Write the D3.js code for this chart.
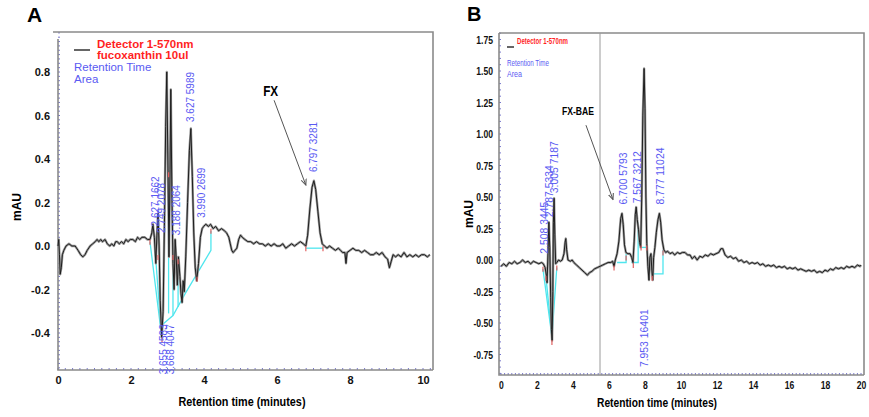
<!DOCTYPE html>
<html>
<head>
<meta charset="utf-8">
<script src="https://cdn.jsdelivr.net/npm/d3@7"></script>
<style>
  body { margin: 0; background: #fff; }
  svg { display: block; font-family: "Liberation Sans", Arial, sans-serif; }
</style>
</head>
<body>
<svg id="chart" width="869" height="417"></svg>
<script>
// ---- panel A : fucoxanthin standard, 570 nm ----
const traceA = [
  [0.00,0.00],[0.02,0.03],[0.04,-0.04],[0.06,-0.13],[0.09,-0.10],[0.12,-0.04],[0.16,-0.02],[0.22,0.00],[0.30,0.01],[0.38,0.00],
  [0.47,0.00],[0.55,-0.02],[0.62,-0.04],[0.68,-0.05],[0.74,-0.04],[0.80,-0.02],[0.88,0.00],[0.95,0.01],[1.02,0.02],[1.07,0.03],
  [1.12,0.02],[1.17,0.03],[1.22,0.02],[1.29,0.03],[1.35,0.01],[1.42,0.00],[1.47,0.01],[1.53,0.00],[1.58,0.02],[1.62,0.02],
  [1.68,0.01],[1.74,0.02],[1.80,0.01],[1.86,0.03],[1.92,0.02],[1.98,0.03],[2.05,0.03],[2.12,0.02],[2.18,0.04],[2.24,0.03],
  [2.30,0.04],[2.38,0.04],[2.45,0.03],[2.52,0.03],[2.57,0.06],[2.60,0.10],[2.64,0.04],[2.68,-0.08],[2.71,0.05],[2.74,0.15],
  [2.77,0.00],[2.80,-0.25],[2.84,-0.42],[2.88,-0.30],[2.92,0.15],[2.95,0.55],[2.98,0.80],[3.01,0.40],[3.04,-0.05],[3.07,0.35],
  [3.09,0.72],[3.12,0.25],[3.15,-0.08],[3.18,-0.20],[3.21,0.03],[3.24,-0.06],[3.27,-0.18],[3.30,-0.05],[3.34,-0.14],[3.37,-0.22],
  [3.40,-0.26],[3.43,-0.16],[3.46,-0.21],[3.50,-0.05],[3.55,0.20],[3.60,0.44],[3.64,0.54],[3.68,0.32],[3.72,0.06],[3.76,-0.10],
  [3.80,-0.16],[3.85,-0.08],[3.90,0.04],[3.95,0.08],[3.99,0.09],[4.05,0.10],[4.12,0.09],[4.18,0.10],[4.25,0.08],[4.32,0.09],
  [4.40,0.07],[4.48,0.08],[4.56,0.07],[4.62,0.06],[4.68,0.04],[4.72,0.01],[4.76,-0.02],[4.80,-0.03],[4.85,-0.02],[4.90,-0.01],
  [4.95,0.03],[5.00,0.05],[5.05,0.04],[5.12,0.03],[5.20,0.02],[5.28,0.02],[5.36,0.01],[5.44,0.02],[5.52,0.01],[5.60,0.01],
  [5.68,0.00],[5.76,0.01],[5.84,0.00],[5.92,0.01],[6.00,0.00],[6.08,0.00],[6.16,0.01],[6.24,-0.01],[6.32,0.00],[6.40,0.01],
  [6.48,0.00],[6.56,0.01],[6.64,0.02],[6.72,0.01],[6.79,0.00],[6.84,0.05],[6.90,0.17],[6.96,0.27],[7.01,0.30],[7.06,0.26],
  [7.12,0.16],[7.18,0.06],[7.24,0.01],[7.30,0.00],[7.37,-0.01],[7.44,0.00],[7.52,-0.01],[7.60,-0.02],[7.68,-0.01],[7.74,-0.02],
  [7.80,-0.03],[7.86,-0.03],[7.89,-0.08],[7.92,-0.03],[8.00,-0.02],[8.08,-0.01],[8.16,-0.02],[8.24,-0.02],[8.32,-0.03],[8.40,-0.02],
  [8.48,-0.03],[8.56,-0.04],[8.64,-0.04],[8.72,-0.03],[8.80,-0.04],[8.88,-0.03],[8.96,-0.05],[9.03,-0.06],[9.08,-0.10],[9.13,-0.07],
  [9.18,-0.04],[9.25,-0.05],[9.32,-0.04],[9.40,-0.05],[9.48,-0.03],[9.56,-0.05],[9.64,-0.04],[9.72,-0.05],[9.80,-0.04],[9.88,-0.05],
  [9.96,-0.04],[10.04,-0.04],[10.12,-0.05],[10.19,-0.04]
];
// integration baselines drawn by the instrument software (cyan)
const baselinesA = [
  [[2.52,0.02],[2.85,-0.43],[2.87,-0.36]],
  [[2.66,-0.02],[2.83,-0.40]],
  [[3.03,0.33],[3.03,-0.31]],
  [[2.87,-0.36],[3.15,-0.32],[3.48,-0.22],[4.19,-0.02],[4.19,0.07]],
  [[3.15,-0.05],[3.15,-0.32]],
  [[3.29,-0.07],[3.29,-0.28]],
  [[6.79,-0.01],[7.26,-0.01]]
];
const markersA = [[2.52,0.02],[2.74,-0.05],[2.85,-0.43],[3.03,0.33],[3.15,-0.05],[3.29,-0.07],[3.81,-0.15],[4.19,0.07],[6.79,-0.01],[7.26,-0.01]];
// [text, time, mAU at text start]
const peakLabelsA = [
  ["2.627 1662", 2.67, 0.09], ["2.749 2078", 2.84, 0.06], ["3.188 2064", 3.25, 0.05],
  ["3.627 5989", 3.62, 0.57], ["3.990 2699", 3.92, 0.13], ["6.797 3281", 7.01, 0.34],
  ["3.655 4583", 2.89, -0.59], ["3.668 4047", 3.07, -0.59]
];
const xTicksA = [0, 2, 4, 6, 8, 10];
const yTicksA = [-0.4, -0.2, 0.0, 0.2, 0.4, 0.6, 0.8];

// ---- panel B : FX-BAE sample, 570 nm ----
const traceB = [
  [0.00,-0.05],[0.15,-0.03],[0.30,-0.05],[0.45,-0.02],[0.60,-0.03],[0.75,-0.01],[0.90,-0.03],[1.05,-0.02],[1.20,0.00],[1.35,-0.02],
  [1.50,-0.01],[1.65,-0.03],[1.80,-0.01],[1.95,-0.02],[2.10,-0.03],[2.25,-0.02],[2.35,-0.03],[2.45,-0.06],[2.52,-0.12],[2.56,-0.18],
  [2.61,0.05],[2.66,0.30],[2.71,0.10],[2.76,-0.30],[2.80,-0.55],[2.84,-0.64],[2.88,-0.25],[2.91,0.30],[2.95,0.49],[2.99,0.20],
  [3.04,-0.03],[3.10,-0.02],[3.20,0.00],[3.30,-0.01],[3.40,0.00],[3.50,0.05],[3.56,0.14],[3.60,0.17],[3.65,0.08],[3.72,0.00],
  [3.85,-0.01],[3.95,0.00],[4.05,-0.02],[4.20,-0.04],[4.35,-0.06],[4.50,-0.08],[4.65,-0.10],[4.80,-0.12],[4.92,-0.10],[5.05,-0.09],
  [5.20,-0.07],[5.35,-0.06],[5.50,-0.05],[5.65,-0.04],[5.80,-0.03],[5.95,-0.02],[6.10,-0.02],[6.20,-0.01],[6.28,-0.05],[6.35,0.00],
  [6.45,0.05],[6.55,0.15],[6.65,0.33],[6.72,0.37],[6.79,0.28],[6.86,0.12],[6.94,0.06],[7.05,0.05],[7.17,0.05],[7.26,0.02],
  [7.33,-0.02],[7.40,0.15],[7.46,0.36],[7.51,0.42],[7.57,0.32],[7.64,0.24],[7.70,0.14],[7.76,0.10],[7.82,0.50],[7.88,1.15],
  [7.95,1.52],[8.00,1.20],[8.05,0.50],[8.10,0.13],[8.16,-0.05],[8.22,-0.16],[8.27,0.02],[8.33,0.05],[8.38,-0.08],[8.43,-0.16],
  [8.48,0.02],[8.55,0.10],[8.63,0.22],[8.72,0.32],[8.80,0.37],[8.87,0.30],[8.95,0.16],[9.05,0.08],[9.15,0.06],[9.25,0.07],
  [9.39,0.05],[9.52,0.06],[9.65,0.04],[9.80,0.06],[9.94,0.05],[10.08,0.06],[10.22,0.06],[10.36,0.04],[10.50,0.04],[10.62,0.01],
  [10.75,0.03],[10.90,0.00],[11.05,0.03],[11.20,0.02],[11.35,0.04],[11.50,0.03],[11.65,0.05],[11.80,0.04],[11.95,0.05],[12.10,0.06],
  [12.22,0.09],[12.32,0.09],[12.45,0.04],[12.60,0.02],[12.75,0.03],[12.90,0.01],[13.05,0.02],[13.20,-0.01],[13.35,0.00],[13.50,-0.02],
  [13.65,-0.01],[13.80,-0.03],[13.95,-0.02],[14.10,-0.03],[14.25,-0.02],[14.40,-0.04],[14.55,-0.03],[14.70,-0.05],[14.85,-0.04],[15.00,-0.05],
  [15.15,-0.04],[15.30,-0.06],[15.45,-0.05],[15.60,-0.06],[15.75,-0.05],[15.90,-0.07],[16.05,-0.06],[16.20,-0.07],[16.35,-0.06],[16.50,-0.08],
  [16.65,-0.07],[16.80,-0.08],[16.95,-0.09],[17.10,-0.08],[17.25,-0.09],[17.40,-0.08],[17.55,-0.10],[17.70,-0.09],[17.85,-0.10],[18.00,-0.08],
  [18.15,-0.09],[18.30,-0.07],[18.45,-0.08],[18.60,-0.06],[18.75,-0.07],[18.90,-0.06],[19.05,-0.07],[19.20,-0.05],[19.35,-0.06],[19.50,-0.05],
  [19.65,-0.06],[19.80,-0.04],[19.95,-0.05],[20.00,-0.04]
];
const baselinesB = [
  [[2.33,-0.07],[2.83,-0.61],[3.10,-0.06]],
  [[2.50,-0.14],[2.83,-0.61]],
  [[2.70,0.02],[2.83,-0.58]],
  [[6.45,-0.02],[6.95,-0.02],[6.95,0.05]],
  [[7.25,-0.02],[7.62,-0.02],[7.62,0.30]],
  [[7.78,0.10],[8.10,0.10]],
  [[8.40,-0.11],[9.00,-0.11],[9.00,0.08]]
];
const markersB = [[2.33,-0.07],[2.50,-0.14],[2.83,-0.65],[3.10,-0.06],[6.28,-0.06],[6.95,0.02],[7.35,-0.04],[7.78,0.10],[8.10,0.10],[8.40,-0.14],[9.00,0.06]];
const peakLabelsB = [
  ["2.508 3445", 2.42, 0.05], ["2.787 5334", 2.69, 0.34], ["3.005 7187", 2.97, 0.53],
  ["6.700 5793", 6.78, 0.44], ["7.567 3212", 7.56, 0.45], ["8.777 11024", 8.83, 0.44],
  ["7.953 16401", 7.97, -0.85]
];
const xTicksB = [0, 2, 4, 6, 8, 10, 12, 14, 16, 18, 20];
const yTicksB = [-0.75, -0.5, -0.25, 0.0, 0.25, 0.5, 0.75, 1.0, 1.25, 1.5, 1.75];
const splitTimeB = 5.5;

const svg = d3.select("#chart");

const defs = svg.append("defs");
defs.append("marker")
    .attr("id", "arrow")
    .attr("viewBox", "0 0 8 8")
    .attr("refX", 7).attr("refY", 4)
    .attr("markerWidth", 7).attr("markerHeight", 7)
    .attr("orient", "auto")
    .append("path")
    .attr("d", "M0,1 L7,4 L0,7")
    .attr("fill", "none")
    .attr("stroke", "#555")
    .attr("stroke-width", 1.2);

// squeeze text horizontally (the original uses a narrow typeface)
function condense(sel, k) {
    sel.each(function () {
        const w = this.getComputedTextLength();
        d3.select(this).attr("textLength", w * k).attr("lengthAdjust", "spacingAndGlyphs");
    });
    return sel;
}

/**
 * Draws one chromatogram panel: frame, axes, trace, integration lines and labels.
 */
function drawPanel(p) {
    const x = d3.scaleLinear().domain(p.xDomain).range(p.xRange);
    const y = d3.scaleLinear().domain(p.yDomain).range(p.yRange);
    const g = svg.append("g");
    const f = p.frame;

    // minor ticks (small blue dots along axes)
    const yMin = d3.ticks(y.invert(f.bottom), y.invert(f.top), p.yMinorCount);
    g.selectAll(".ymin").data(yMin).enter().append("line")
        .attr("x1", f.left).attr("x2", f.left + 2)
        .attr("y1", d => y(d)).attr("y2", d => y(d))
        .attr("stroke", "#7777cc").attr("stroke-width", 1);
    const xMin = d3.ticks(0, x.invert(f.right), p.xMinorCount);
    g.selectAll(".xmin").data(xMin).enter().append("line")
        .attr("x1", d => x(d)).attr("x2", d => x(d))
        .attr("y1", f.bottom).attr("y2", f.bottom - 2)
        .attr("stroke", "#7777cc").attr("stroke-width", 1);

    // frame
    g.append("path")
        .attr("d", `M${f.topLeft},${f.top}H${f.right}V${f.bottom}`)
        .attr("fill", "none").attr("stroke", "#8a8a8a").attr("stroke-width", 1.6);
    g.append("path")
        .attr("d", `M${f.left},${f.axisTop}V${f.bottom}H${f.right}`)
        .attr("fill", "none").attr("stroke", "#8a8a8a").attr("stroke-width", 1.6);

    // axes
    const yAxis = d3.axisLeft(y).tickValues(p.yTicks).tickSize(0).tickPadding(p.yPad)
        .tickFormat(d => d.toFixed(p.yDigits));
    const yText = g.append("g")
        .attr("transform", `translate(${f.left},0)`)
        .call(yAxis)
        .call(a => a.select(".domain").remove())
        .selectAll("text").attr("font-size", 11).attr("font-weight", "bold").attr("fill", "#111");
    const xAxis = d3.axisBottom(x).tickValues(p.xTicks).tickSize(0).tickPadding(p.xPad);
    const xText = g.append("g")
        .attr("transform", `translate(0,${f.bottom})`)
        .call(xAxis)
        .call(a => a.select(".domain").remove())
        .selectAll("text").attr("font-size", 11).attr("font-weight", "bold").attr("fill", "#111");
    if (p.tickSqueeze < 1) {
        condense(yText, p.tickSqueeze);
        condense(xText, p.tickSqueeze);
    }

    // split line (panel B)
    if (p.splitTime !== undefined) {
        g.append("line")
            .attr("x1", x(p.splitTime)).attr("x2", x(p.splitTime))
            .attr("y1", f.top).attr("y2", f.bottom)
            .attr("stroke", "#9a9a9a").attr("stroke-width", 1);
    }

    const line = d3.line().x(d => x(d[0])).y(d => y(d[1]));

    // integration baselines
    g.selectAll(".base").data(p.baselines).enter().append("path")
        .attr("d", line)
        .attr("fill", "none").attr("stroke", "#4fe6ee").attr("stroke-width", 1.3);

    // trace with a soft grey halo
    g.append("path").datum(p.trace)
        .attr("d", line).attr("fill", "none")
        .attr("stroke", "#9a9a9a").attr("stroke-width", 2.4).attr("stroke-linejoin", "round");
    g.append("path").datum(p.trace)
        .attr("d", line).attr("fill", "none")
        .attr("stroke", "#1e1e1e").attr("stroke-width", 1).attr("stroke-linejoin", "round");

    // peak start/end marks
    g.selectAll(".mark").data(p.markers).enter().append("line")
        .attr("x1", d => x(d[0])).attr("x2", d => x(d[0]))
        .attr("y1", d => y(d[1]) - 2).attr("y2", d => y(d[1]) + 3)
        .attr("stroke", "#e06060").attr("stroke-width", 1.2);

    // retention time / area labels
    g.selectAll(".plab").data(p.labels).enter().append("text")
        .attr("transform", d => `translate(${x(d[1])},${y(d[2])}) rotate(-90)`)
        .attr("dy", "0.35em")
        .attr("font-size", p.labelSize)
        .attr("fill", "#5a5af2")
        .text(d => d[0]);

    return {x, y, g};
}

// ---------- Panel A ----------
const A = drawPanel({
    xDomain: [0, 10], xRange: [58, 423],
    yDomain: [0, 0.8], yRange: [246, 72],
    frame: {left: 58, right: 433, top: 32, topLeft: 53, axisTop: 39, bottom: 370},
    yMinorCount: 70, xMinorCount: 50,
    yTicks: yTicksA, xTicks: xTicksA, yDigits: 1, yPad: 8, xPad: 6, tickSqueeze: 1,
    trace: traceA, baselines: baselinesA, markers: markersA, labels: peakLabelsA,
    labelSize: 10
});

// ---------- Panel B ----------
const B = drawPanel({
    xDomain: [0, 20], xRange: [501, 861],
    yDomain: [0, 1.75], yRange: [260, 39.5],
    frame: {left: 499, right: 864, top: 33, topLeft: 499, axisTop: 33, bottom: 375},
    yMinorCount: 60, xMinorCount: 100,
    yTicks: yTicksB, xTicks: xTicksB, yDigits: 2, yPad: 6, xPad: 6, tickSqueeze: 0.78,
    splitTime: splitTimeB,
    trace: traceB, baselines: baselinesB, markers: markersB, labels: peakLabelsB,
    labelSize: 10.4
});

// panel letters
svg.append("text").attr("x", 27).attr("y", 22)
    .attr("font-size", 21).attr("font-weight", "bold").text("A");
svg.append("text").attr("x", 467).attr("y", 21)
    .attr("font-size", 20).attr("font-weight", "bold").text("B");

// axis titles
svg.append("text").attr("x", 242).attr("y", 406).attr("text-anchor", "middle")
    .attr("font-size", 13).attr("font-weight", "bold")
    .attr("textLength", 127).attr("lengthAdjust", "spacingAndGlyphs")
    .text("Retention time (minutes)");
svg.append("text").attr("x", 657).attr("y", 407).attr("text-anchor", "middle")
    .attr("font-size", 12.5).attr("font-weight", "bold")
    .attr("textLength", 120).attr("lengthAdjust", "spacingAndGlyphs")
    .text("Retention time (minutes)");
svg.append("text").attr("transform", "translate(21,207) rotate(-90)").attr("text-anchor", "middle")
    .attr("font-size", 12).attr("font-weight", "bold").text("mAU");
svg.append("text").attr("transform", "translate(473,214) rotate(-90)").attr("text-anchor", "middle")
    .attr("font-size", 12).attr("font-weight", "bold").text("mAU");

// legend A
svg.append("line").attr("x1", 74).attr("x2", 90).attr("y1", 50).attr("y2", 50)
    .attr("stroke", "#333").attr("stroke-width", 1.5);
svg.append("text").attr("x", 97).attr("y", 48).attr("font-size", 11.5).attr("font-weight", "bold")
    .attr("fill", "#ff1f1f").text("Detector 1-570nm");
svg.append("text").attr("x", 97).attr("y", 59).attr("font-size", 11.5).attr("font-weight", "bold")
    .attr("fill", "#ff1f1f").text("fucoxanthin 10ul");
svg.append("text").attr("x", 74).attr("y", 71).attr("font-size", 11.5)
    .attr("fill", "#5a5af2").text("Retention Time");
svg.append("text").attr("x", 74).attr("y", 83).attr("font-size", 11.5)
    .attr("fill", "#5a5af2").text("Area");

// legend B
svg.append("line").attr("x1", 507).attr("x2", 514).attr("y1", 47).attr("y2", 47)
    .attr("stroke", "#333").attr("stroke-width", 1.5);
svg.append("text").attr("x", 517).attr("y", 44).attr("font-size", 9)
    .attr("font-weight", "bold").attr("fill", "#ff1f1f")
    .attr("textLength", 51).attr("lengthAdjust", "spacingAndGlyphs").text("Detector 1-570nm");
svg.append("text").attr("x", 507).attr("y", 66).attr("font-size", 9.5)
    .attr("fill", "#5a5af2")
    .attr("textLength", 42).attr("lengthAdjust", "spacingAndGlyphs").text("Retention Time");
svg.append("text").attr("x", 507).attr("y", 77).attr("font-size", 9.5)
    .attr("fill", "#5a5af2")
    .attr("textLength", 15).attr("lengthAdjust", "spacingAndGlyphs").text("Area");

// compound annotations
svg.append("text").attr("x", A.x(5.62)).attr("y", A.y(0.69))
    .attr("font-size", 14).attr("font-weight", "bold")
    .attr("textLength", 15).attr("lengthAdjust", "spacingAndGlyphs").text("FX");
svg.append("line")
    .attr("x1", A.x(5.92)).attr("y1", A.y(0.67)).attr("x2", A.x(6.79)).attr("y2", A.y(0.28))
    .attr("stroke", "#555").attr("stroke-width", 1).attr("marker-end", "url(#arrow)");

svg.append("text").attr("x", B.x(3.39)).attr("y", B.y(1.15))
    .attr("font-size", 11.5).attr("font-weight", "bold")
    .attr("textLength", 32).attr("lengthAdjust", "spacingAndGlyphs").text("FX-BAE");
svg.append("line")
    .attr("x1", B.x(4.72)).attr("y1", B.y(1.07)).attr("x2", B.x(6.22)).attr("y2", B.y(0.48))
    .attr("stroke", "#555").attr("stroke-width", 1).attr("marker-end", "url(#arrow)");
</script>
</body>
</html>
